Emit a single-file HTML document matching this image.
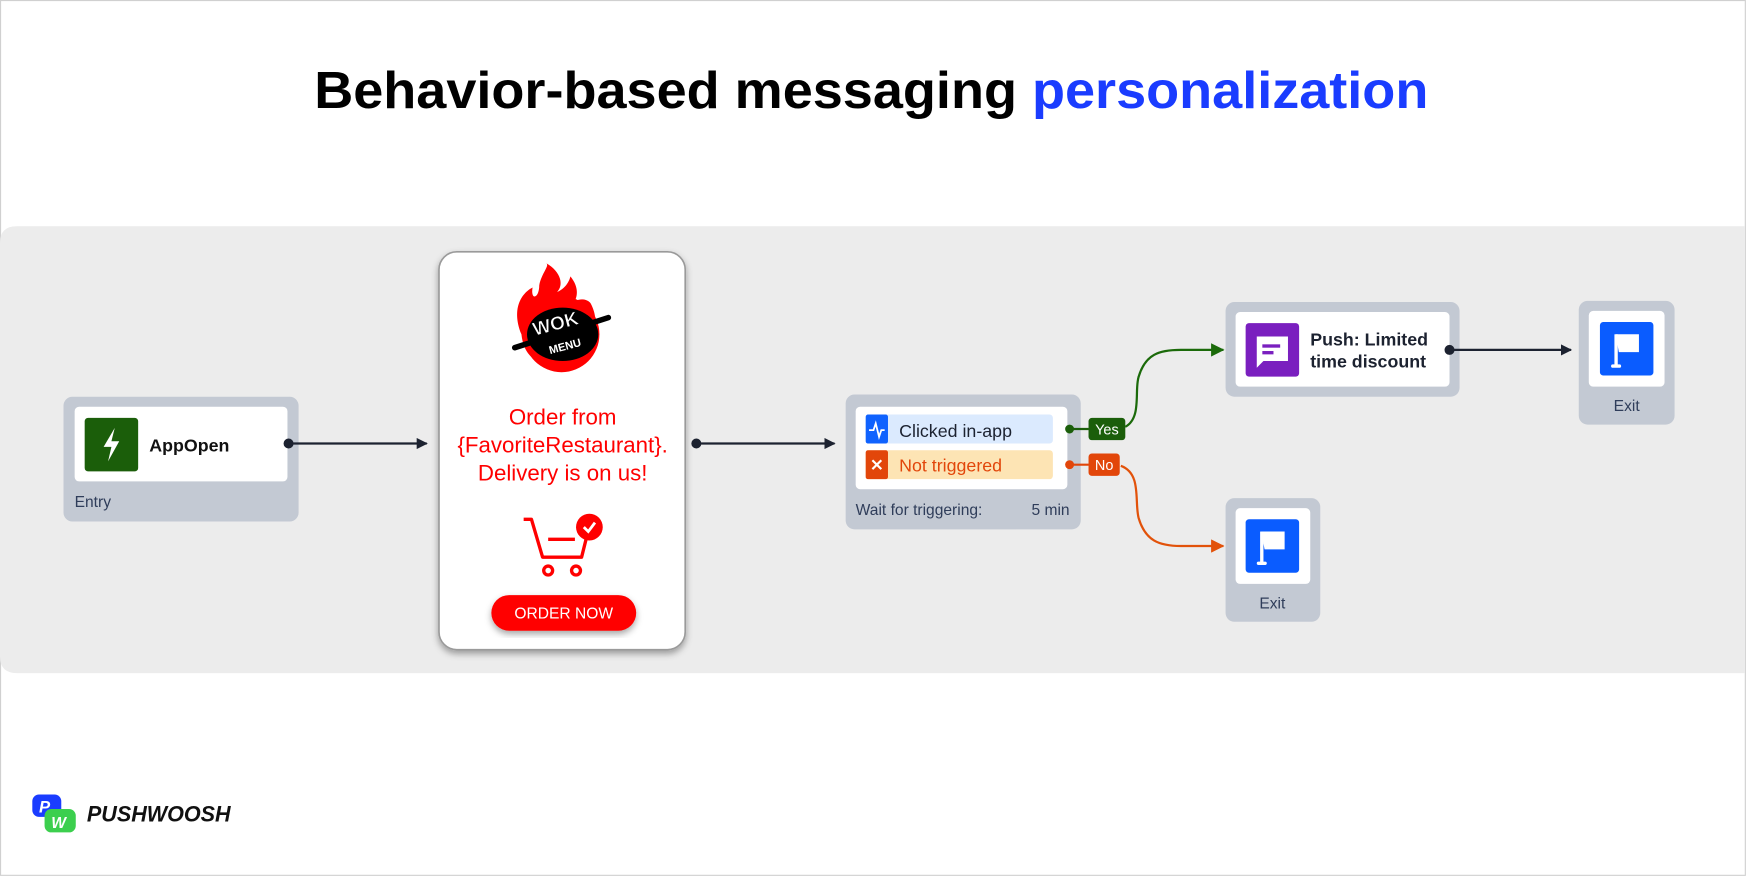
<!DOCTYPE html>
<html><head><meta charset="utf-8"><style>
html,body{margin:0;padding:0;background:#fff;}
svg{display:block;}
text{font-family:"Liberation Sans",sans-serif;}
</style></head><body>
<svg width="1747" height="877" viewBox="0 0 1568 787" preserveAspectRatio="none" xmlns="http://www.w3.org/2000/svg">
<defs>
<marker id="ak" markerWidth="10" markerHeight="10" refX="9" refY="5" orient="auto" markerUnits="userSpaceOnUse"><path d="M0,0 L10,5 L0,10 z" fill="#1c2230"/></marker>
<marker id="ag" markerWidth="12" markerHeight="12" refX="11" refY="6" orient="auto" markerUnits="userSpaceOnUse"><path d="M0,0 L12,6 L0,12 z" fill="#1b6a0a"/></marker>
<marker id="ao" markerWidth="12" markerHeight="12" refX="11" refY="6" orient="auto" markerUnits="userSpaceOnUse"><path d="M0,0 L12,6 L0,12 z" fill="#e2520a"/></marker>
<filter id="sh" x="-20%" y="-20%" width="140%" height="140%"><feDropShadow dx="0" dy="3" stdDeviation="3" flood-color="#000" flood-opacity="0.35"/></filter>
</defs>
<rect x="0.5" y="0.5" width="1566" height="785" fill="#fff" stroke="#d0d0d0"/>
<text x="282" y="97" font-size="47" font-weight="bold" fill="#000" textLength="1000" lengthAdjust="spacingAndGlyphs">Behavior-based messaging <tspan fill="#1a3cff">personalization</tspan></text>
<path d="M15,203 H1566 V604 H15 Q0,604 0,589 V218 Q0,203 15,203 z" fill="#ececec"/>

<!-- Entry -->
<rect x="57" y="356" width="211" height="112" rx="8" fill="#c3c9d3"/>
<rect x="67" y="365" width="191" height="67" rx="4" fill="#fff"/>
<rect x="76" y="375" width="48" height="48" rx="3" fill="#1b5e0a"/>
<path d="M103,384 L93,401 L100,401 L97,414 L107,396 L100,396 z" fill="#fff"/>
<text x="134" y="405" font-size="16" font-weight="bold" fill="#111">AppOpen</text>
<text x="67" y="455" font-size="14" fill="#2f3d5a">Entry</text>
<circle cx="259" cy="398" r="4.5" fill="#1c2230"/>
<line x1="259" y1="398" x2="383" y2="398" stroke="#1c2230" stroke-width="2" marker-end="url(#ak)"/>

<!-- Card -->
<rect x="394" y="226" width="221" height="357" rx="16" fill="#fff" stroke="#9a9a9a" stroke-width="1.5" filter="url(#sh)"/>
<g>
<path d="M468,300 C458,275 470,262 478,258 C476,270 484,268 484,256 C486,245 494,238 490,236 C504,244 506,256 500,262 C510,258 512,248 512,248 C520,258 518,266 516,270 C526,266 530,272 530,272 C540,290 534,315 505,325 C480,330 470,318 468,300 z" fill="#ff0000"/>
<circle cx="504" cy="300" r="34" fill="#ff0000"/>
<ellipse cx="505" cy="300" rx="32" ry="24" fill="#000"/>
<line x1="462" y1="312" x2="546" y2="285" stroke="#000" stroke-width="5" stroke-linecap="round"/>
<text x="500" y="296" font-size="17" font-weight="bold" fill="#fff" text-anchor="middle" transform="rotate(-15 500 296)" stroke="#000" stroke-width="0.5">WOK</text>
<text x="508" y="314" font-size="10" font-weight="bold" fill="#fff" text-anchor="middle" transform="rotate(-15 508 314)">MENU</text>
</g>
<g font-size="20" fill="#ff0000" text-anchor="middle">
<text x="505" y="381">Order from</text>
<text x="505" y="406">{FavoriteRestaurant}.</text>
<text x="505" y="431">Delivery is on us!</text>
</g>
<g stroke="#ff0000" stroke-width="3" fill="none" stroke-linejoin="round">
<path d="M470,466 H477 L487,500 H522 L527,480"/>
<line x1="492" y1="484" x2="516" y2="484"/>
</g>
<circle cx="492" cy="512" r="4" fill="none" stroke="#ff0000" stroke-width="3"/>
<circle cx="517" cy="512" r="4" fill="none" stroke="#ff0000" stroke-width="3"/>
<circle cx="529" cy="473" r="12" fill="#ff0000"/>
<path d="M524,473 L528,477 L534,469" stroke="#fff" stroke-width="2.5" fill="none"/>
<rect x="441" y="534" width="130" height="32" rx="16" fill="#ff0000" filter="url(#sh)"/>
<text x="506" y="555" font-size="14" fill="#fff" text-anchor="middle">ORDER NOW</text>

<circle cx="625" cy="398" r="4.5" fill="#1c2230"/>
<line x1="625" y1="398" x2="749" y2="398" stroke="#1c2230" stroke-width="2" marker-end="url(#ak)"/>

<!-- Wait node -->
<rect x="759" y="354" width="211" height="121" rx="8" fill="#c3c9d3"/>
<rect x="768" y="365" width="190" height="74" rx="4" fill="#fff"/>
<rect x="777" y="372" width="168" height="26" rx="3" fill="#dbeafe"/>
<rect x="777" y="372" width="20" height="26" rx="2" fill="#0f62fe"/>
<path d="M780,386 H784 L786,380 L789,392 L791,386 H794" stroke="#fff" stroke-width="1.6" fill="none"/>
<rect x="777" y="404" width="168" height="26" rx="3" fill="#fde4b4"/>
<rect x="777" y="404" width="20" height="26" rx="2" fill="#e2460a"/>
<path d="M783,413 L791,421 M791,413 L783,421" stroke="#fff" stroke-width="2"/>
<text x="807" y="392" font-size="16" fill="#1c2230">Clicked in-app</text>
<text x="807" y="423" font-size="16" fill="#e2460a">Not triggered</text>
<text x="768" y="462" font-size="14" fill="#2f3d5a">Wait for triggering:</text>
<text x="960" y="462" font-size="14" fill="#2f3d5a" text-anchor="end">5 min</text>
<line x1="960" y1="385" x2="977" y2="385" stroke="#1b5e0a" stroke-width="2"/>
<circle cx="960" cy="385" r="4" fill="#1b5e0a"/>
<rect x="977" y="375" width="33" height="20" rx="3" fill="#1b5e0a"/>
<text x="993.5" y="390" font-size="13" fill="#fff" text-anchor="middle">Yes</text>
<line x1="960" y1="417" x2="977" y2="417" stroke="#e2460a" stroke-width="2"/>
<circle cx="960" cy="417" r="4" fill="#e2460a"/>
<rect x="977" y="407" width="28" height="20" rx="3" fill="#e2460a"/>
<text x="991" y="422" font-size="13" fill="#fff" text-anchor="middle">No</text>
<path d="M1010,383 C1025,375 1018,350 1022,338 C1028,318 1040,314 1060,314 L1098,314" stroke="#1b6a0a" stroke-width="2" fill="none" marker-end="url(#ag)"/>
<path d="M1006,418 C1025,425 1018,450 1022,465 C1028,485 1040,490 1060,490 L1098,490" stroke="#e2520a" stroke-width="2" fill="none" marker-end="url(#ao)"/>

<!-- Push node -->
<rect x="1100" y="271" width="210" height="85" rx="8" fill="#c3c9d3"/>
<rect x="1109" y="280" width="192" height="67" rx="4" fill="#fff"/>
<rect x="1118" y="290" width="48" height="48" rx="3" fill="#7a1fbf"/>
<path d="M1128,302 H1156 V324 H1134 L1128,330 z" fill="#fff"/>
<rect x="1133" y="309" width="16" height="3" fill="#7a1fbf"/>
<rect x="1133" y="315" width="10" height="3" fill="#7a1fbf"/>
<text x="1176" y="310" font-size="16" font-weight="bold" fill="#1c2230">Push: Limited</text>
<text x="1176" y="330" font-size="16" font-weight="bold" fill="#1c2230">time discount</text>
<circle cx="1301" cy="314" r="4.5" fill="#1c2230"/>
<line x1="1301" y1="314" x2="1410" y2="314" stroke="#1c2230" stroke-width="2" marker-end="url(#ak)"/>

<!-- Exit 1 -->
<rect x="1417" y="270" width="86" height="111" rx="8" fill="#c3c9d3"/>
<rect x="1426" y="279" width="68" height="68" rx="4" fill="#fff"/>
<rect x="1436" y="289" width="48" height="48" rx="3" fill="#0a5cff"/>
<path d="M1450,300 H1471 V316 H1453 z" fill="#fff"/>
<rect x="1449" y="300" width="3" height="29" fill="#fff"/>
<rect x="1446" y="327" width="9" height="3" rx="1.5" fill="#fff"/>
<text x="1460" y="369" font-size="14" fill="#2f3d5a" text-anchor="middle">Exit</text>

<!-- Exit 2 -->
<rect x="1100" y="447" width="85" height="111" rx="8" fill="#c3c9d3"/>
<rect x="1109" y="456" width="67" height="68" rx="4" fill="#fff"/>
<rect x="1118" y="466" width="48" height="48" rx="3" fill="#0a5cff"/>
<path d="M1132,477 H1153 V493 H1135 z" fill="#fff"/>
<rect x="1131" y="477" width="3" height="29" fill="#fff"/>
<rect x="1128" y="504" width="9" height="3" rx="1.5" fill="#fff"/>
<text x="1142" y="546" font-size="14" fill="#2f3d5a" text-anchor="middle">Exit</text>

<!-- Logo -->
<rect x="29" y="713" width="26" height="20" rx="6" fill="#1a3cff"/>
<text x="35" y="729" font-size="15" font-weight="bold" font-style="italic" fill="#fff">P</text>
<rect x="40" y="726" width="28" height="21" rx="6" fill="#3ccf4e"/>
<text x="46" y="743" font-size="14" font-weight="bold" font-style="italic" fill="#fff">W</text>
<text x="78" y="737" font-size="20" font-weight="bold" font-style="italic" fill="#111" textLength="129" lengthAdjust="spacingAndGlyphs">PUSHWOOSH</text>
</svg>
</body></html>
